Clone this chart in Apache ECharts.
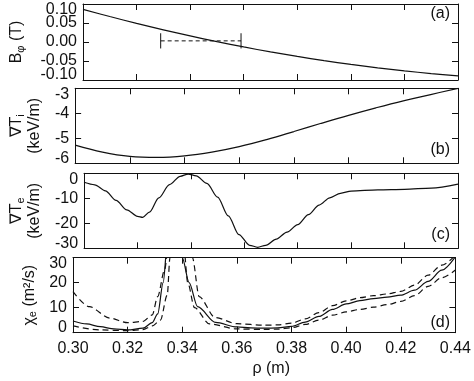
<!DOCTYPE html>
<html>
<head>
<meta charset="utf-8">
<script src="https://cdn.jsdelivr.net/npm/echarts@6/dist/echarts.min.js"></script>
<style>html,body{margin:0;padding:0;background:#fff;}#c{width:474px;height:381px;}</style>
</head>
<body>
<div id="c"></div>
<script>
// ---- data ----
const xTicks = [0.30, 0.32, 0.34, 0.36, 0.38, 0.40, 0.42, 0.44];

// (a) B_phi (T)
const rhoA = [0.30,0.31,0.32,0.33,0.34,0.35,0.36,0.37,0.38,0.39,0.40,0.41,0.42,0.43,0.44];
const bPhi = [0.086,0.067,0.049,0.032,0.016,0.001,-0.013,-0.026,-0.038,-0.049,-0.059,-0.068,-0.076,-0.083,-0.089];
// error bar: [centre rho, value, half width]
const errBar = [0.344, 0.003, 0.015];
const errCap = 0.02;

// (b) grad Ti (keV/m)
const rhoB = [0.30,0.31,0.32,0.33,0.34,0.35,0.36,0.37,0.38,0.39,0.40,0.41,0.42,0.43,0.44];
const gradTi = [-5.27,-5.55,-5.72,-5.76,-5.70,-5.55,-5.33,-5.05,-4.73,-4.40,-4.08,-3.78,-3.50,-3.25,-3.0];

// (c) grad Te (keV/m)
const rhoC = [0.300,0.304,0.308,0.312,0.316,0.320,0.322,0.3245,0.328,0.332,0.336,0.339,0.342,0.346,0.350,0.354,0.358,0.362,0.365,0.368,0.372,0.376,0.380,0.384,0.388,0.392,0.396,0.400,0.410,0.420,0.430,0.440];
const gradTe = [-3.6,-4.6,-7.0,-10.8,-14.6,-17.2,-17.6,-15.5,-9.8,-4.5,-1.2,-0.3,-1.0,-4.0,-9.5,-17,-24.5,-28.8,-29.6,-28.8,-26.3,-23.5,-20.5,-16.5,-12.7,-9.8,-8.0,-7.1,-6.6,-6.4,-5.9,-4.3];

// (d) chi_e (m^2/s): solid and two dashed bounds
const rhoD = [0.300,0.305,0.310,0.315,0.320,0.3256,0.329,0.331,0.333,0.3345,0.337,0.3385,0.340,0.3425,0.3456,0.3522,0.360,0.365,0.370,0.375,0.380,0.385,0.390,0.395,0.400,0.405,0.410,0.415,0.420,0.425,0.430,0.435,0.440];
const chiD = [4.7,3.5,2.4,1.5,1.1,1.8,4.0,7.5,20,35,45,40,30,20,10.4,4.1,2.3,1.9,1.8,1.9,2.5,4.2,6.5,9.3,11.5,12.8,13.6,14.2,15.0,17.0,20.5,25,30.4];
const rhoUp = [0.300,0.306,0.3135,0.320,0.3256,0.329,0.331,0.3335,0.335,0.338,0.341,0.3437,0.3462,0.352,0.360,0.370,0.375,0.380,0.385,0.390,0.395,0.400,0.405,0.410,0.415,0.420,0.425,0.430,0.435,0.440];
const chiUp = [16.4,10.4,5.8,4.0,4.5,7.1,14.4,25,35,45,40,30,14.4,6.1,3.6,3.0,3.1,3.8,5.5,8.0,10.8,12.7,14.0,14.8,15.5,16.5,19.0,23.0,27,31];
const rhoLo = [0.300,0.310,0.320,0.3256,0.329,0.332,0.3345,0.3355,0.338,0.3405,0.342,0.3445,0.350,0.360,0.370,0.375,0.380,0.385,0.390,0.395,0.400,0.405,0.410,0.415,0.420,0.425,0.430,0.435,0.440];
const chiLo = [2.7,1.1,0.8,1.2,2.7,5,15,30,45,35,20,10,3.5,1.5,1.3,1.4,2.0,3.3,5.0,7.0,8.3,9.3,10.2,11.2,12.5,14.8,18.5,22,25.1];

// ---- chart ----
const zip = (a, b) => a.map((v, i) => [v, b[i]]);
const FONT = 'Liberation Sans, Arial, sans-serif';
const BLACK = '#111';

const grids = [
  {left: 73, right: 16, top: 4, height: 76},
  {left: 73, right: 16, top: 88.3, height: 75},
  {left: 73, right: 16, top: 173.3, height: 75},
  {left: 73, right: 16, top: 257.7, height: 75}
];
const yRanges = [
  {min: -0.10, max: 0.10, interval: 0.05, dec: 2},
  {min: -6, max: -3, interval: 1, dec: 0},
  {min: -30, max: 0, interval: 10, dec: 0},
  {min: 0, max: 30, interval: 10, dec: 0}
];
const yNames = [
  {text: 'B{sub|φ} (T)', gap: 57},
  {text: '∇T{sub|i}\n(keV/m)', gap: 29},
  {text: '∇T{sub|e}\n(keV/m)', gap: 29},
  {text: 'χ{sub|e} (m²/s)', gap: 32}
];

const tick = {show: true, inside: true, length: 6, lineStyle: {color: BLACK, width: 1}};
const aline = {show: true, onZero: false, lineStyle: {color: BLACK, width: 1}};
const isEnd = (v, r) => Math.abs(v - r.max) < 1e-9 || Math.abs(v - r.min) < 1e-9;
const fmt = (v, r) => (Math.abs(v) < 1e-9 ? 0 : v).toFixed(r.dec);

const xAxis = [], yAxis = [], yMain = [];
grids.forEach((g, i) => {
  xAxis.push({
    type: 'value', gridIndex: i, position: 'bottom',
    min: xTicks[0], max: xTicks[xTicks.length - 1], interval: 0.02,
    axisLine: aline, axisTick: tick, splitLine: {show: false},
    axisLabel: {show: i === 3, color: BLACK, fontFamily: FONT, fontSize: 16, margin: 8,
      showMinLabel: true, showMaxLabel: true,
      formatter: v => v.toFixed(2)},
    name: i === 3 ? 'ρ (m)' : '', nameLocation: 'middle', nameGap: 28,
    nameTextStyle: {color: BLACK, fontFamily: FONT, fontSize: 16, padding: [0, 0, 0, 14]}
  });
  xAxis.push({
    type: 'value', gridIndex: i, position: 'top',
    min: xTicks[0], max: xTicks[xTicks.length - 1], interval: 0.02,
    axisLine: aline, axisTick: tick, splitLine: {show: false}, axisLabel: {show: false}
  });
  const r = yRanges[i];
  // main left axis: line, ticks, inner labels, name
  yMain.push(yAxis.length);
  yAxis.push({
    type: 'value', gridIndex: i, position: 'left',
    min: r.min, max: r.max, interval: r.interval,
    axisLine: aline, axisTick: tick, splitLine: {show: false},
    axisLabel: {color: BLACK, fontFamily: FONT, fontSize: 16, margin: 6,
      showMinLabel: false, showMaxLabel: false,
      formatter: v => isEnd(v, r) ? '' : fmt(v, r)},
    name: yNames[i].text, nameLocation: 'middle', nameGap: yNames[i].gap, nameRotate: 90,
    nameTextStyle: {color: BLACK, fontFamily: FONT, fontSize: 16, lineHeight: 18, align: 'center',
      rich: {sub: {fontFamily: FONT, fontSize: 11, color: BLACK, padding: [7, 0, 0, 0]}}}
  });
  // companion left axis carrying only the end labels, nudged inward
  yAxis.push({
    type: 'value', gridIndex: i, position: 'left',
    min: r.min, max: r.max, interval: r.interval,
    axisLine: {show: false, onZero: false}, axisTick: {show: false}, splitLine: {show: false},
    axisLabel: {color: BLACK, fontFamily: FONT, fontSize: 16, margin: 6,
      showMinLabel: true, showMaxLabel: true,
      formatter: v => {
        if (Math.abs(v - r.max) < 1e-9) return '{t|' + fmt(v, r) + '}';
        if (Math.abs(v - r.min) < 1e-9) return '{b|' + fmt(v, r) + '}';
        return '';
      },
      rich: {
        t: {fontFamily: FONT, fontSize: 16, color: BLACK, padding: [12, 0, 0, 0]},
        b: {fontFamily: FONT, fontSize: 16, color: BLACK, padding: [0, 0, 10, 0]}
      }
    }
  });
  yAxis.push({
    type: 'value', gridIndex: i, position: 'right',
    min: r.min, max: r.max, interval: r.interval,
    axisLine: aline, axisTick: tick, splitLine: {show: false}, axisLabel: {show: false}
  });
});

const lineBase = (xi, yi, data, dashed, mono) => ({
  type: 'line', xAxisIndex: xi, yAxisIndex: yi, data: data,
  showSymbol: false, smooth: mono ? 0.3 : 0.4, smoothMonotone: mono ? 'x' : undefined, clip: true,
  lineStyle: {color: BLACK, width: 1.2, type: dashed ? [6, 4] : 'solid'},
  silent: true, animation: false
});

const series = [
  lineBase(0, yMain[0], zip(rhoA, bPhi)),
  {
    type: 'custom', xAxisIndex: 0, yAxisIndex: yMain[0], data: [errBar], clip: true, silent: true, animation: false,
    renderItem: (params, api) => {
      const c = api.value(0), y = api.value(1), h = api.value(2);
      const p1 = api.coord([c - h, y]), p2 = api.coord([c + h, y]);
      const capPx = api.size([0, errCap])[1];
      const st = {stroke: BLACK, lineWidth: 1, fill: null};
      return {type: 'group', children: [
        {type: 'line', shape: {x1: p1[0], y1: p1[1], x2: p2[0], y2: p2[1]}, style: Object.assign({lineDash: [4, 3]}, st)},
        {type: 'line', shape: {x1: p1[0], y1: p1[1] - capPx, x2: p1[0], y2: p1[1] + capPx}, style: st},
        {type: 'line', shape: {x1: p2[0], y1: p2[1] - capPx, x2: p2[0], y2: p2[1] + capPx}, style: st}
      ]};
    }
  },
  lineBase(2, yMain[1], zip(rhoB, gradTi)),
  lineBase(4, yMain[2], zip(rhoC, gradTe), false, true),
  lineBase(6, yMain[3], zip(rhoD, chiD), false, true),
  lineBase(6, yMain[3], zip(rhoUp, chiUp), true, true),
  lineBase(6, yMain[3], zip(rhoLo, chiLo), true, true)
];

const panelTag = (txt, top) => ({type: 'text', right: 24, top: top,
  style: {text: txt, fill: BLACK, font: '16px ' + FONT}});

const chart = echarts.init(document.getElementById('c'), null, {renderer: 'canvas'});
chart.setOption({
  animation: false,
  backgroundColor: '#fff',
  grid: grids,
  xAxis: xAxis,
  yAxis: yAxis,
  series: series,
  graphic: [panelTag('(a)', 6), panelTag('(b)', 142), panelTag('(c)', 227), panelTag('(d)', 315)]
});
</script>
</body>
</html>
